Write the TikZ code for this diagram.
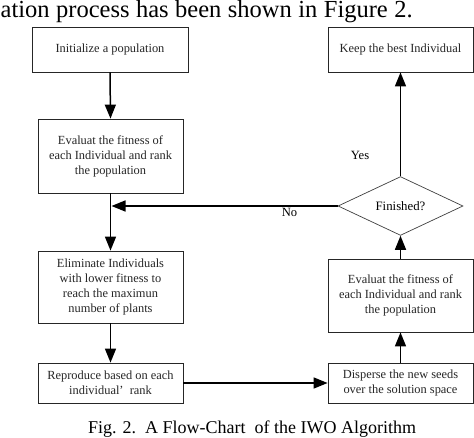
\documentclass[tikz,border=0pt]{standalone}
\usepackage{fontspec}
\setmainfont{Liberation Serif}
\usetikzlibrary{arrows.meta,shapes.geometric}
\begin{document}
\begin{tikzpicture}[x=1pt,y=-1pt,
  box/.style={draw=black!85,line width=0.8pt,rectangle,inner sep=0pt,align=center,
    font=\fontsize{12.4}{15}\selectfont,text=black!85},
  dec/.style={draw=black!75,line width=0.7pt,diamond,inner sep=0pt,
    minimum width=125pt,minimum height=54pt,font=\fontsize{12.8}{15}\selectfont},
  arr/.style={line width=1.5pt,-{Triangle[length=14pt,width=11pt]}},
  lbl/.style={font=\fontsize{12.6}{15}\selectfont,inner sep=0pt}]
\useasboundingbox (0,0) rectangle (474,438);
\fill[white] (0,0) rectangle (474,438);
% header and caption
\node[anchor=base west,inner sep=0pt] (head) at (0.5,18)
  {\fontsize{24.5}{27}\selectfont\makebox[412pt][s]{ation process has been shown in Figure 2.}};
\node[anchor=base west,inner sep=0pt] (cap) at (88,433)
  {\fontsize{18}{20}\selectfont Fig. 2.\ \ A Flow-Chart\ \ of the IWO Algorithm};
% boxes
\node[box,minimum width=156pt,minimum height=45pt] (init) at (110,49.5) {Initialize a population};
\node[box,minimum width=145pt,minimum height=45pt] (keep) at (400.5,49.5) {Keep the best Individual};
\node[box,minimum width=145pt,minimum height=74pt] (evalL) at (110.5,156) {Evaluat the fitness of\\each Individual and rank\\the population};
\node[dec] (fin) at (400.5,206) {Finished?};
\node[box,minimum width=145pt,minimum height=72pt] (elim) at (110.5,287) {Eliminate Individuals\\with lower fitness to\\reach the maximun\\number of plants};
\node[box,minimum width=145pt,minimum height=40pt] (repr) at (110.5,383) {Reproduce based on each\\individual’\hspace{0.5em}rank};
\node[box,minimum width=145pt,minimum height=40pt] (disp) at (400.5,383) {Disperse the new seeds\\over the solution space};
\node[box,minimum width=145pt,minimum height=73pt] (evalR) at (400.5,295.5) {Evaluat the fitness of\\each Individual and rank\\the population};
% connectors
\draw[arr] (init.south) -- (evalL.north);
\draw[arr] (evalL.south) -- (elim.north);
\draw[arr] (elim.south) -- (repr.north);
\draw[arr] (repr.east) -- (disp.west);
\draw[arr] (disp.north) -- (evalR.south);
\draw[arr] (evalR.north) -- (fin.south);
\draw[arr] (fin.north) -- (keep.south);
\coordinate (join) at (fin.west -| evalL.south);
\draw[arr] (fin.west) -- ([xshift=1pt]join);
% labels
\node[lbl] (no) at (289.5,212) {No};
\node[lbl] (yes) at (360,155) {Yes};
\end{tikzpicture}
\end{document}
